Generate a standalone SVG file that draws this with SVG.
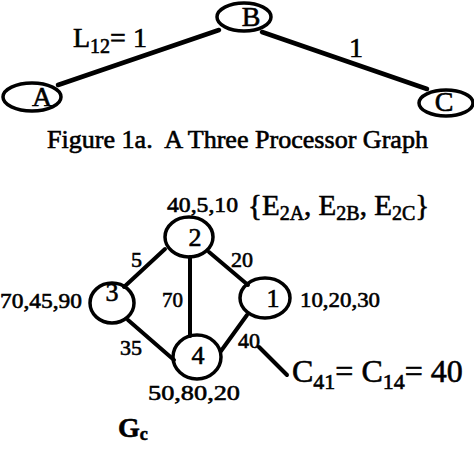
<svg xmlns="http://www.w3.org/2000/svg" width="474" height="451" viewBox="0 0 474 451">
<style>
text{font-family:"Liberation Serif","Times New Roman",serif;fill:#000;stroke:#000;stroke-width:0.6;white-space:pre}
.node{fill:none;stroke:#000;stroke-width:3.5}
.edge{stroke:#000;stroke-linecap:round;fill:none}
.top{stroke-width:4.5}
.bot{stroke-width:4}
.big{font-size:28px}
.lab{font-size:22px}
.sub{font-size:18px}
</style>
<rect width="474" height="451" fill="#fff"/>
<g id="connectors">
<line class="edge top" x1="58" y1="85" x2="219" y2="30"/>
<line class="edge top" x1="262" y1="32" x2="427" y2="89"/>
<line class="edge bot" x1="165" y1="249" x2="124" y2="287"/>
<line class="edge bot" x1="209" y1="252" x2="248" y2="285"/>
<line class="edge bot" x1="190" y1="257" x2="190" y2="336"/>
<line class="edge bot" x1="128" y1="320" x2="174" y2="360"/>
<line class="edge bot" x1="247" y1="315" x2="221" y2="351"/>
<line class="edge bot" x1="259" y1="347" x2="287" y2="375"/>
</g>
<g id="edge-labels">
<text class="big" x="73" y="47">L<tspan font-size="20" dy="6">12</tspan><tspan dy="-6">= 1</tspan></text>
<text class="big" x="349" y="57">1</text>
<text class="lab" x="131" y="267">5</text>
<text class="lab" x="231" y="267" textLength="22" lengthAdjust="spacingAndGlyphs">20</text>
<text class="lab" x="162" y="307" textLength="21" lengthAdjust="spacingAndGlyphs">70</text>
<text class="lab" x="120" y="355" textLength="22" lengthAdjust="spacingAndGlyphs">35</text>
<text class="lab" x="238" y="348" textLength="22" lengthAdjust="spacingAndGlyphs">40</text>
</g>
<g id="node-A"><ellipse class="node" cx="32" cy="97" rx="29" ry="14"/><text class="big" x="42" y="106" text-anchor="middle">A</text></g>
<g id="node-B"><ellipse class="node" cx="244" cy="17" rx="27" ry="14"/><text class="big" x="251" y="26" text-anchor="middle">B</text></g>
<g id="node-C"><ellipse class="node" cx="446" cy="103" rx="27" ry="13"/><text class="big" x="444" y="111" text-anchor="middle">C</text></g>
<text x="47" y="148" font-size="25" textLength="381" lengthAdjust="spacingAndGlyphs">Figure 1a.  A Three Processor Graph</text>
<g id="node-2"><ellipse class="node" cx="189" cy="237" rx="24" ry="20"/><text x="195" y="246" font-size="26" text-anchor="middle">2</text></g>
<g id="node-3"><ellipse class="node" cx="112" cy="303" rx="22" ry="20"/><text x="112" y="301" font-size="26" text-anchor="middle">3</text></g>
<g id="node-1"><ellipse class="node" cx="265" cy="298" rx="25" ry="20"/><text x="273" y="307" font-size="26" text-anchor="middle">1</text></g>
<g id="node-4"><ellipse class="node" cx="197" cy="357" rx="24" ry="22"/><text x="198" y="364" font-size="26" text-anchor="middle">4</text></g>
<g id="node-labels">
<text class="lab" x="167" y="212" textLength="71" lengthAdjust="spacingAndGlyphs">40,5,10</text>
<text x="248" y="215" font-size="29">{E<tspan font-size="20" dy="5">2A</tspan><tspan dy="-5">, E</tspan><tspan font-size="20" dy="5">2B</tspan><tspan dy="-5">, E</tspan><tspan font-size="20" dy="5">2C</tspan><tspan dy="-5">}</tspan></text>
<text class="lab" x="0" y="308" textLength="82" lengthAdjust="spacingAndGlyphs">70,45,90</text>
<text class="lab" x="300" y="307" textLength="80" lengthAdjust="spacingAndGlyphs">10,20,30</text>
<text class="lab" x="148" y="400" textLength="92" lengthAdjust="spacingAndGlyphs">50,80,20</text>
<text x="292" y="382" font-size="32">C<tspan font-size="22" dy="7">41</tspan><tspan dy="-7">= C</tspan><tspan font-size="22" dy="7">14</tspan><tspan dy="-7">= 40</tspan></text>
<text x="118" y="437" font-size="28" font-weight="bold">G<tspan font-size="18" dy="3">c</tspan></text>
</g>
</svg>
